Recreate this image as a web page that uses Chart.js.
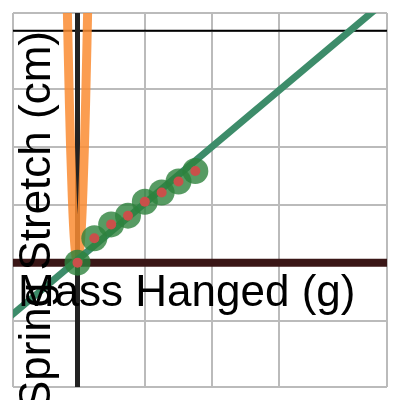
<!DOCTYPE html>
<html><head><meta charset="utf-8">
<script src="https://cdn.jsdelivr.net/npm/chart.js"></script>
<style>html,body{margin:0;padding:0;background:#fff}#c{width:400px;height:400px}</style>
</head><body><div id="c"><canvas id="myChart"></canvas></div>
<script>
let massX = [0, 0.25, 0.5, 0.75, 1, 1.25, 1.5, 1.75];
let stretchY = [0, 0.42, 0.66, 0.81, 1.05, 1.21, 1.40, 1.58];
let fitX = [-1, 4.7];
let fitY = [0.05 - 0.976, 0.05 + 0.976 * 4.7];
let curveX = [-0.16, -0.12, -0.08, -0.04, 0, 0.04, 0.08, 0.12, 0.16];
let curveY = [4.86, 2.74, 1.22, 0.3, 0, 0.3, 1.22, 2.74, 4.86];
let topLineY = 4;

const pts = (xs, ys) => xs.map((x, i) => ({x: x, y: ys[i]}));

const labels = {
  id: 'labels',
  afterDatasetsDraw(chart) {
    const c = chart.ctx;
    c.save();
    c.fillStyle = '#000';
    c.font = '44px "Liberation Sans", Arial';
    c.textBaseline = 'middle';
    c.fillText('Mass Hanged (g)', 18, 294);
    c.translate(38, 400);
    c.rotate(-Math.PI / 2);
    c.fillText('Spring Stretch (cm)', -10, 0);
    c.restore();
  }
};

const config = {
  type: 'scatter',
  data: {
    datasets: [
      {data: pts(massX, stretchY), pointRadius: 5, backgroundColor: '#c9504a', borderWidth: 0},
      {data: pts(massX, stretchY), pointRadius: 13, backgroundColor: 'rgba(45,130,60,0.8)', borderWidth: 0},
      {data: pts(fitX, fitY), showLine: true, pointRadius: 0, borderColor: '#3d8c6a', borderWidth: 7},
      {data: pts(curveX, curveY), showLine: true, tension: 0.4, pointRadius: 0, borderColor: 'rgba(250,140,50,0.85)', borderWidth: 9},
      {data: [{x: -1, y: 0}, {x: 5, y: 0}], showLine: true, pointRadius: 0, borderColor: '#3a1616', borderWidth: 8},
      {data: [{x: 0, y: -3}, {x: 0, y: 5}], showLine: true, pointRadius: 0, borderColor: '#222', borderWidth: 5},
      {data: [{x: -1, y: topLineY}, {x: 5, y: topLineY}], showLine: true, pointRadius: 0, borderColor: '#000', borderWidth: 2}
    ]
  },
  options: {
    animation: false,
    responsive: true,
    maintainAspectRatio: false,
    layout: {padding: 0},
    plugins: {legend: {display: false}, tooltip: {enabled: false}},
    scales: {
      x: {type: 'linear', min: -0.958, max: 4.597, display: true,
          ticks: {display: false, stepSize: 1, padding: 0}, border: {display: false},
          grid: {color: '#bbb', lineWidth: 2, drawTicks: false},
          afterFit: s => { s.height = 0; s.paddingLeft = 0; s.paddingRight = 0; }},
      y: {type: 'linear', min: -2.145, max: 4.306, display: true,
          ticks: {display: false, stepSize: 1, padding: 0}, border: {display: false},
          grid: {color: '#bbb', lineWidth: 2, drawTicks: false},
          afterFit: s => { s.width = 0; s.paddingTop = 0; s.paddingBottom = 0; }}
    }
  },
  plugins: [labels]
};
var myChart = new Chart(document.getElementById('myChart'), config);
</script></body></html>
